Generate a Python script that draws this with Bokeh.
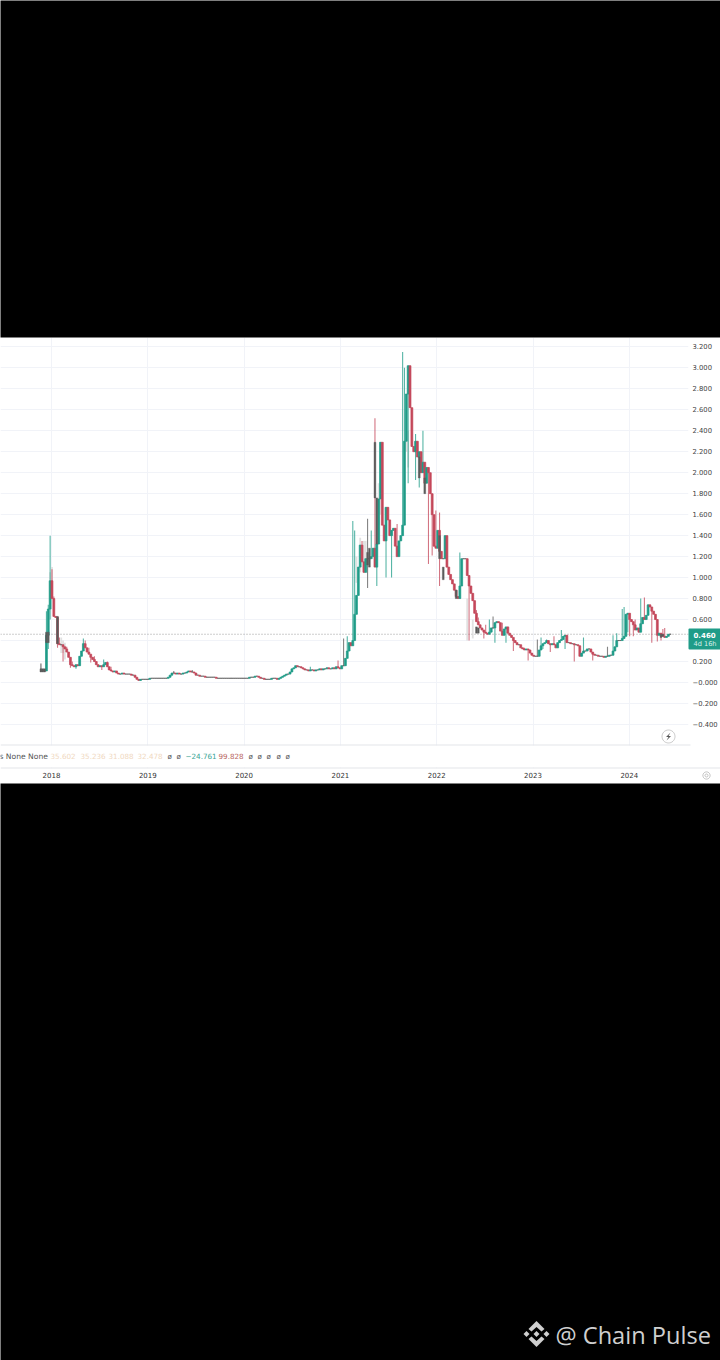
import numpy as np
from bokeh.plotting import figure
from bokeh.models import (BoxAnnotation, ColumnDataSource, FixedTicker, Label, PolyAnnotation, Span)
from bokeh.embed import file_html
from bokeh.resources import INLINE

# ---- data (weekly candles) ----
first_week = 2017.89
weeks_per_year = 52.18
closes_2018 = [.11,.12,.11,.45,.70,.97,.80,.63,.62,.37,.36,.36,.34,.32,.29,.24,.17,
               .16,.15,.17,.16,.25,.30,.37,.33,.29,.27,.24,.22,.20,.17,.15,.16,.15,.17,.19,.15,.12,
               .11,.10,.11,.09,.08,.08,.09,.08,.08,.08,.08,.07,.07,.05,.03,.02,.03,.03,.03,.03,.03]
closes_2019 = [.04,.04,.04,.04,.04,.04,.04,.04,.04,.04,.05,.07,.09,.09,.08,.09,.08,.08,.09,.09,.10,.11,.10,.10,.09,.07,.07,
               .06,.06,.06,.05,.05,.05,.05,.05,.05,.04,.04,.04,.04,.04,.04,.04,.04,.04,.04,.04,.04,.04,.04,.04,.04,.04,.04]
closes_2020 = [.05,.05,.05,.06,.06,.05,.04,.04,.03,.03,.03,.03,.04,.04,.04,.03,.04,.05,.06,.07,.08,.08,.10,.13,.14,.16,.15,.15,
               .14,.13,.12,.12,.11,.12,.12,.11,.12,.12,.13,.12,.13,.13,.14,.13,.13,.14,.13,.15,.14,.13,.16,.16,.23,.30,.38,.35,.40,.65,.83,1.10,1.31]
closes_2021 = [1.15,1.05,1.18,1.18,1.18,1.20,1.28,1.10,1.32,1.75,2.29,1.50,1.35,1.67,1.55,1.40,1.45,1.47,1.30,1.20,1.35,1.40,1.50,2.30,2.75,3.02,
               2.62,2.25,2.20,2.30,2.15,2.20,2.00,2.10,1.90,2.05,2.00,1.80,1.60,1.30,1.28,1.45,1.25,1.18,1.18,1.40,1.10,1.03,.98,.94,.88,.82,.80,.92,1.18,1.18,1.18]
closes_2022 = [1.02,.92,.85,.78,.66,.58,.55,.52,.50,.48,.47,.46,.48,.52,.52,.57,.58,.57,.49,.45,.51,.53,.47,.45,.43,.40,.38,.36,.36,.33,.32,.31,.32,.31,.28,.26,.25,.25,.25,.31,.35,.37,.38]
closes_2023 = [.40,.37,.36,.37,.36,.33,.38,.40,.41,.44,.45,.38,.38,.37,.37,.36,.36,.35,.25,.28,.30,.30,.32,.32,.29,.27,.26,.26,.25,.25,.25,.24,.25,.25,.26,.26,.30,.34,.40,.40,.40,.42,.44,.65,.66,.60,.58,.55,.50,.52,.48,.56,.62,.60,.64,.74,.72,.68,.65,.60,.45,.47,.46,.44,.43,.44,.46,.46]
closes = closes_2018 + closes_2019 + closes_2020 + closes_2021 + closes_2022 + closes_2023

wick_highs = {0:.18,3:.68,4:.74,5:1.40,6:1.08,7:.82,9:.63,10:.43,14:.34,17:.20,23:.42,24:.40,26:.33,29:.25,34:.22,36:.20,38:.15,
              72:.11,82:.12,138:.16,146:.15,161:.21,164:.42,166:.44,169:1.54,170:1.45,174:1.35,177:1.56,179:1.45,181:2.52,184:1.72,186:1.45,188:1.52,193:1.51,
              196:3.15,197:3.00,201:2.42,203:2.37,204:2.26,207:2.40,212:1.62,214:1.64,216:1.62,220:1.26,227:1.24,236:.69,237:.62,238:.55,
              241:.55,243:.60,245:.63,247:.52,250:.57,253:.45,255:.42,258:.37,262:.33,269:.41,271:.43,274:.41,278:.44,282:.50,285:.41,294:.43,297:.30,307:.34,
              310:.45,312:.47,315:.70,316:.72,318:.66,320:.58,322:.60,325:.80,327:.81,330:.70,334:.48,337:.51,338:.52}
wick_lows = {3:.30,4:.32,5:.60,9:.33,12:.20,16:.14,19:.13,27:.19,33:.12,172:1.00,177:.90,182:.92,187:1.00,190:1.00,194:1.88,195:2.45,197:2.07,199:1.90,
             205:1.86,203:1.93,210:1.13,212:1.21,216:.92,232:.40,240:.42,246:.38,252:.38,256:.30,264:.21,272:.32,276:.29,284:.32,289:.20,292:.26,299:.21,
             318:.48,319:.44,321:.44,331:.38,334:.39,336:.40}
dark_week = [0,1,2,3,4,9,177,178,181,182,205,208,216,218,225,236,237,336,337]
dark_low  = [.10,.10,.10,.38,.38,.37,1.12,1.10,1.76,1.32,1.95,1.80,1.18,.98,.80,.47,.47,.43,.44]
dark_high = [.13,.13,.13,.48,.48,.63,1.24,1.28,2.29,1.76,2.15,1.95,1.40,1.10,.88,.53,.52,.46,.46]
ghost_week = [0,5,6,11,12,13,171,173,175,176,183,184,198,199,231,234]
ghost_low  = [.10,.98,.80,.28,.28,.22,.95,1.05,1.05,1.15,1.50,1.60,2.20,2.05,.40,.42]
ghost_high = [.18,1.05,1.10,.43,.40,.38,1.20,1.38,1.35,1.35,1.90,1.90,2.60,2.40,.80,.60]
last_price = 0.46
price_ticks = [-.4,-.2,0,.2,.4,.6,.8,1,1.2,1.4,1.6,1.8,2,2.2,2.4,2.6,2.8,3,3.2]
year_ticks = [2018,2019,2020,2021,2022,2023,2024]
legend_name = "s None None"
legend_values = ["35.602","35.236","31.088","32.478"]
legend_extra = ["-24.761","99.828"]

TEAL, RED, DARK, GHOST = "#1f9c88", "#c4475a", "#5c5c5c", "#d9d9d9"
GRID = "#f1f3f8"; RULE = "#e3e5ea"; TXT = "#444444"

opens = [closes[0]] + closes[:-1]
x = [first_week + i / weeks_per_year for i in range(len(closes))]
highs = [max(wick_highs.get(i, 0), o, c) for i, (o, c) in enumerate(zip(opens, closes))]
lows = [min(wick_lows.get(i, 99), o, c) for i, (o, c) in enumerate(zip(opens, closes))]
colors = [DARK if c == o else (TEAL if c > o else RED) for o, c in zip(opens, closes)]
src = ColumnDataSource(dict(x=x, o=opens, c=closes, h=highs, l=lows, color=colors))

p = figure(width=720, height=446, output_backend="svg", toolbar_location=None,
           frame_width=688, frame_height=431, min_border_left=0, min_border_right=32,
           min_border_top=0, min_border_bottom=15,
           x_range=(2017.4704, 2024.6147), y_range=(-0.82, 3.289), y_axis_location="right",
           background_fill_color="white", border_fill_color="white", outline_line_color=None)
p.styles = {"position": "absolute", "left": "0px", "top": "337px"}

p.ygrid.grid_line_color = GRID
p.xgrid.grid_line_color = GRID
p.ygrid.ticker = FixedTicker(ticks=price_ticks)
p.xgrid.ticker = FixedTicker(ticks=year_ticks)
p.add_layout(Span(location=last_price, dimension="width", line_color="#9a9a9a", line_dash="1 2",
                  line_width=1, level="underlay"))

ghost_x = [x[i] for i in ghost_week]
p.vbar(ghost_x, 0.019, ghost_low, ghost_high, fill_color=GHOST, line_color=None, fill_alpha=0.8)
p.segment("x", "l", "x", "h", source=src, color="color", line_width=1.1, line_alpha=0.75)
p.vbar("x", 0.0195, "o", "c", source=src, fill_color="color", line_color="color", line_width=0.7)
dark_x = [x[i] for i in dark_week]
p.vbar(dark_x, 0.019, dark_low, dark_high, fill_color=DARK, line_color=DARK, line_width=0.4)

ax = p.yaxis[0]
ax.ticker = FixedTicker(ticks=price_ticks)
ax.major_label_overrides = {t: (("\u2212" if t <= 0 else "") + f"{abs(t):.3f}") for t in price_ticks}
ax.axis_line_color = None; ax.major_tick_line_color = None; ax.minor_tick_line_color = None
ax.major_label_text_font = "DejaVu Sans"; ax.major_label_text_font_size = "6.8px"
ax.major_label_text_color = TXT; ax.major_label_standoff = -2
xa = p.xaxis[0]
xa.ticker = FixedTicker(ticks=year_ticks)
xa.major_label_overrides = {t: str(t) for t in year_ticks}
xa.axis_line_color = None; xa.major_tick_line_color = None; xa.minor_tick_line_color = None
xa.major_label_text_font = "DejaVu Sans"; xa.major_label_text_font_size = "7px"
xa.major_label_text_color = "#333333"; xa.major_label_standoff = -3

# transparent sheet over the chart: black page, strip, price tag, icons, watermark
ov = figure(width=720, height=1360, output_backend="svg", toolbar_location=None,
            frame_width=720, frame_height=1360,
            x_axis_type=None, y_axis_type=None, min_border=0, outline_line_color=None,
            x_range=(0, 720), y_range=(1360, 0), background_fill_color=None, border_fill_color=None)
ov.grid.visible = False
ov.styles = {"position": "absolute", "left": "0px", "top": "0px"}

def box(l, r, t, b, color, radius=0):
    ov.add_layout(BoxAnnotation(left=l, right=r, top=t, bottom=b, left_units="canvas", right_units="canvas",
                                top_units="canvas", bottom_units="canvas", fill_color=color, fill_alpha=1,
                                line_color=None, border_radius=radius))

def label(tx, lx, ly, color=TXT, size=7.2, font="DejaVu Sans", style="normal"):
    ov.add_layout(Label(x=lx, y=ly, x_units="canvas", y_units="canvas", text=tx, text_color=color,
                        text_font=font, text_font_size=f"{size}px", text_font_style=style,
                        text_baseline="middle", level="overlay"))

def poly(xs, ys, fill=None, line=None, lw=1):
    ov.add_layout(PolyAnnotation(xs=list(xs), ys=list(ys), xs_units="canvas", ys_units="canvas",
                                 fill_color=fill, fill_alpha=1 if fill else 0,
                                 line_color=line, line_width=lw, level="overlay"))

box(-2, 722, -2, 337, "black")
box(-2, 722, 783, 1362, "black")
box(0, 688, 745, 767, "white")
box(0, 690, 744, 745, RULE)
box(0, 720, 767, 768, RULE)

label(legend_name, -1, 755.5, "#555555", 7.6)
for tx, lx in zip(legend_values, [50, 80, 108, 137]):
    label(tx, lx, 755.5, "#f0d8c0")
for lx in [167, 176, 248, 257, 266, 276, 285]:
    label("\u00f8", lx, 755.5, "#555555")
label("\u2212" + legend_extra[0][1:], 185, 755.5, "#3aa596")
label(legend_extra[1], 218, 755.5, "#b9665f")

box(688, 720, 628, 649, TEAL, radius=1)
label("0.460", 693, 634, "white", 7, style="bold")
label("4d 16h", 693, 643, "#d8f0ea", 6.6)

t = np.linspace(0, 2 * np.pi, 40)
poly(668 + 6.5 * np.cos(t), 736 + 6.5 * np.sin(t), line="#555555", lw=1)
poly([670, 665.5, 668, 666, 670.5, 668], [732, 736.5, 736.5, 740, 735.5, 735.5], fill="#555555")
poly(706 + 3.6 * np.cos(t), 775 + 3.6 * np.sin(t), line="#444444", lw=1)
poly(706 + 1.5 * np.cos(t), 775 + 1.5 * np.sin(t), line="#444444", lw=1)

WM = "#cfcfcf"
cx, cy = 536, 1333.5
poly([cx, cx + 8, cx + 5, cx, cx - 5, cx - 8], [cy - 13, cy - 5, cy - 2.5, cy - 7, cy - 2.5, cy - 5], fill=WM)
poly([cx, cx + 8, cx + 5, cx, cx - 5, cx - 8], [cy + 13, cy + 5, cy + 2.5, cy + 7, cy + 2.5, cy + 5], fill=WM)
poly([cx, cx + 3, cx, cx - 3], [cy - 3, cy, cy + 3, cy], fill=WM)
poly([cx - 13, cx - 10, cx - 7, cx - 10], [cy, cy - 3, cy, cy + 3], fill=WM)
poly([cx + 13, cx + 10, cx + 7, cx + 10], [cy, cy - 3, cy, cy + 3], fill=WM)
label("@ Chain Pulse", 555, 1334, WM, 23.6, font="Open Sans")

open("out.html", "w").write(file_html([p, ov], INLINE))
